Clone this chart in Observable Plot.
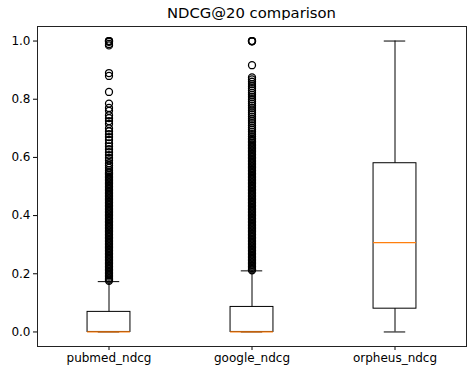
<!DOCTYPE html>
<html><head><meta charset="utf-8">
<script src="https://cdn.jsdelivr.net/npm/d3@7"></script>
<script src="https://cdn.jsdelivr.net/npm/@observablehq/plot@0.6"></script>
<style>
body{margin:0;background:#fff;font-family:"DejaVu Sans",sans-serif;}
#wrap{width:474px;height:375px;position:relative;background:#fff;}
#title{position:absolute;left:37px;width:429px;top:4px;text-align:center;font-size:14.8px;line-height:18px;color:#000;}
#chart{position:absolute;top:20px;left:0;}
</style></head><body>
<div id="wrap"><div id="title">NDCG@20 comparison</div><div id="chart"></div></div>
<script>
const categories = ["pubmed_ndcg", "google_ndcg", "orpheus_ndcg"];
const whiskerLow = [0, 0, 0];
const q1 = [0, 0, 0.08];
const median = [0, 0, 0.307];
const q3 = [0.069, 0.086, 0.58];
const whiskerHigh = [0.173, 0.21, 1.0];
const yTicks = [0, 0.2, 0.4, 0.6, 0.8, 1.0];

const pubmedOutliers = [
  1.0, 1.0, 1.0, 0.997, 0.99, 0.985, 0.89, 0.88, 0.825, 0.785, 0.77, 0.76,
  0.745, 0.735, 0.725, 0.715, 0.70, 0.69, 0.68, 0.67, 0.66, 0.648, 0.638, 0.628,
  0.618, 0.608, 0.598, 0.59, 0.58, 0.572, 0.564, 0.556, 0.549,
  0.545, 0.54, 0.535, 0.53, 0.525, 0.52, 0.515, 0.51, 0.505, 0.50, 0.495, 0.49,
  0.485, 0.48, 0.475, 0.47, 0.465, 0.46, 0.455, 0.45, 0.445, 0.44, 0.435, 0.43,
  0.425, 0.42, 0.415, 0.41, 0.405, 0.40, 0.395, 0.39, 0.385, 0.38, 0.375, 0.37,
  0.365, 0.36, 0.355, 0.35, 0.345, 0.34, 0.335, 0.33, 0.325, 0.32, 0.315, 0.31,
  0.305, 0.30, 0.295, 0.29, 0.285, 0.28, 0.275, 0.27, 0.265, 0.26, 0.255, 0.25,
  0.245, 0.24, 0.235, 0.23, 0.225, 0.22, 0.215, 0.21, 0.205, 0.20, 0.195, 0.19,
  0.185, 0.18, 0.176
];
const googleOutliers = [
  1.0, 1.0, 1.0, 0.999, 0.917,
  0.875, 0.868, 0.86, 0.852, 0.845, 0.838, 0.83, 0.822, 0.815, 0.808, 0.80, 0.792,
  0.785, 0.778, 0.77, 0.762, 0.755, 0.748, 0.74, 0.732, 0.725, 0.718, 0.71, 0.702,
  0.695, 0.688, 0.68, 0.672,
  0.665, 0.66, 0.655, 0.65, 0.645, 0.64, 0.635, 0.63, 0.625, 0.62, 0.615, 0.61,
  0.605, 0.60, 0.595, 0.59, 0.585, 0.58, 0.575, 0.57, 0.565, 0.56, 0.555, 0.55,
  0.545, 0.54, 0.535, 0.53, 0.525, 0.52, 0.515, 0.51, 0.505, 0.50, 0.495, 0.49,
  0.485, 0.48, 0.475, 0.47, 0.465, 0.46, 0.455, 0.45, 0.445, 0.44, 0.435, 0.43,
  0.425, 0.42, 0.415, 0.41, 0.405, 0.40, 0.395, 0.39, 0.385, 0.38, 0.375, 0.37,
  0.365, 0.36, 0.355, 0.35, 0.345, 0.34, 0.335, 0.33, 0.325, 0.32, 0.315, 0.31,
  0.305, 0.30, 0.295, 0.29, 0.285, 0.28, 0.275, 0.27, 0.265, 0.26, 0.255, 0.25,
  0.245, 0.24, 0.235, 0.23, 0.225, 0.22, 0.215, 0.212
];
const orpheusOutliers = [];

const boxes = categories.map((c, i) => ({
  cat: c, pos: i + 1, lo: whiskerLow[i], q1: q1[i], med: median[i], q3: q3[i], hi: whiskerHigh[i]
}));
const outliers = [[pubmedOutliers, 1], [googleOutliers, 2], [orpheusOutliers, 3]]
  .flatMap(([arr, p]) => arr.map(v => ({pos: p, v})));
const halfBox = 0.15, halfCap = 0.075;

const plot = Plot.plot({
  width: 474, height: 355,
  marginTop: 6, marginBottom: 29, marginLeft: 37, marginRight: 8,
  style: {fontFamily: "DejaVu Sans", fontSize: "12px", color: "black", background: "white"},
  x: {type: "linear", domain: [0.5, 3.5]},
  y: {domain: [-0.05, 1.05]},
  marks: [
    Plot.axisX({ticks: [1, 2, 3], tickFormat: d => categories[d - 1], tickSize: 4, tickPadding: 3, fontSize: 12, label: null}),
    Plot.axisY({ticks: yTicks, tickFormat: d3.format(".1f"), tickSize: 4, tickPadding: 3, fontSize: 12, label: null}),
    Plot.ruleX(boxes, {x: "pos", y1: "q3", y2: "hi", stroke: "black"}),
    Plot.ruleX(boxes, {x: "pos", y1: "lo", y2: "q1", stroke: "black"}),
    Plot.ruleY(boxes, {y: "hi", x1: d => d.pos - halfCap, x2: d => d.pos + halfCap, stroke: "black"}),
    Plot.ruleY(boxes, {y: "lo", x1: d => d.pos - halfCap, x2: d => d.pos + halfCap, stroke: "black"}),
    Plot.rect(boxes, {x1: d => d.pos - halfBox, x2: d => d.pos + halfBox, y1: "q1", y2: "q3", fill: "none", stroke: "black"}),
    Plot.ruleY(boxes, {y: "med", x1: d => d.pos - halfBox, x2: d => d.pos + halfBox, stroke: "#ff7f0e", strokeWidth: 1.2}),
    Plot.dot(outliers, {x: "pos", y: "v", r: 3.5, stroke: "black", strokeWidth: 1.3, fill: "none"}),
    Plot.frame({stroke: "#222", strokeWidth: 1})
  ]
});
document.getElementById("chart").appendChild(plot);
</script>
</body></html>
